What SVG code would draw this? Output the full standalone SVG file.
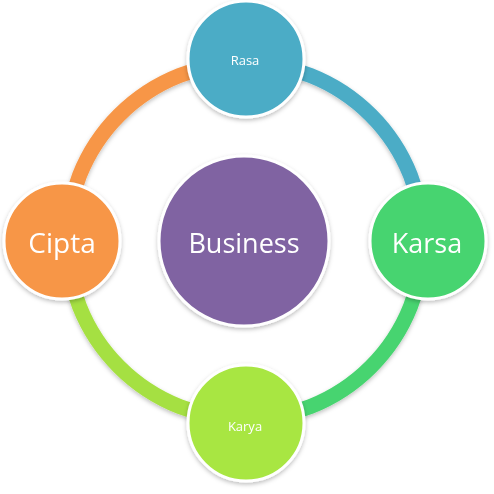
<svg xmlns="http://www.w3.org/2000/svg" width="494" height="494" viewBox="0 0 494 494">
<style>
.arc{fill:none;stroke-width:15}
.node{stroke:#fff;stroke-width:3}
.lbl{font-family:"Open Sans","Noto Sans",sans-serif;fill:#fff;text-anchor:middle;dominant-baseline:central}
</style>
<defs>
<filter id="sh" x="-20%" y="-20%" width="140%" height="140%">
<feDropShadow dx="0" dy="2" stdDeviation="2" flood-color="#000" flood-opacity="0.25"/>
</filter>
</defs>
<rect width="494" height="494" fill="#fff"/>
<g id="connectors" filter="url(#sh)">
<path class="arc" stroke="#4BACC6" d="M245,63 A178,178 0 0 1 423,241"/>
<path class="arc" stroke="#46D46F" d="M423,241 A178,178 0 0 1 245,419"/>
<path class="arc" stroke="#A5E042" d="M245,419 A178,178 0 0 1 67,241"/>
<path class="arc" stroke="#F79646" d="M67,241 A178,178 0 0 1 245,63"/>
</g>
<g id="business" filter="url(#sh)">
<circle class="node" cx="244" cy="241" r="85" fill="#8064A2"/>
<text class="lbl" x="244" y="242" font-size="27">Business</text>
</g>
<g id="rasa" filter="url(#sh)">
<circle class="node" cx="246" cy="59" r="58" fill="#4BACC6"/>
<text class="lbl" x="245" y="60" font-size="13">Rasa</text>
</g>
<g id="karsa" filter="url(#sh)">
<circle class="node" cx="428" cy="241" r="58" fill="#46D46F"/>
<text class="lbl" x="427" y="242" font-size="27">Karsa</text>
</g>
<g id="karya" filter="url(#sh)">
<circle class="node" cx="246" cy="423" r="58" fill="#A8E643"/>
<text class="lbl" x="245" y="426" font-size="13">Karya</text>
</g>
<g id="cipta" filter="url(#sh)">
<circle class="node" cx="62" cy="241" r="58" fill="#F79646"/>
<text class="lbl" x="62" y="242" font-size="28">Cipta</text>
</g>
</svg>
